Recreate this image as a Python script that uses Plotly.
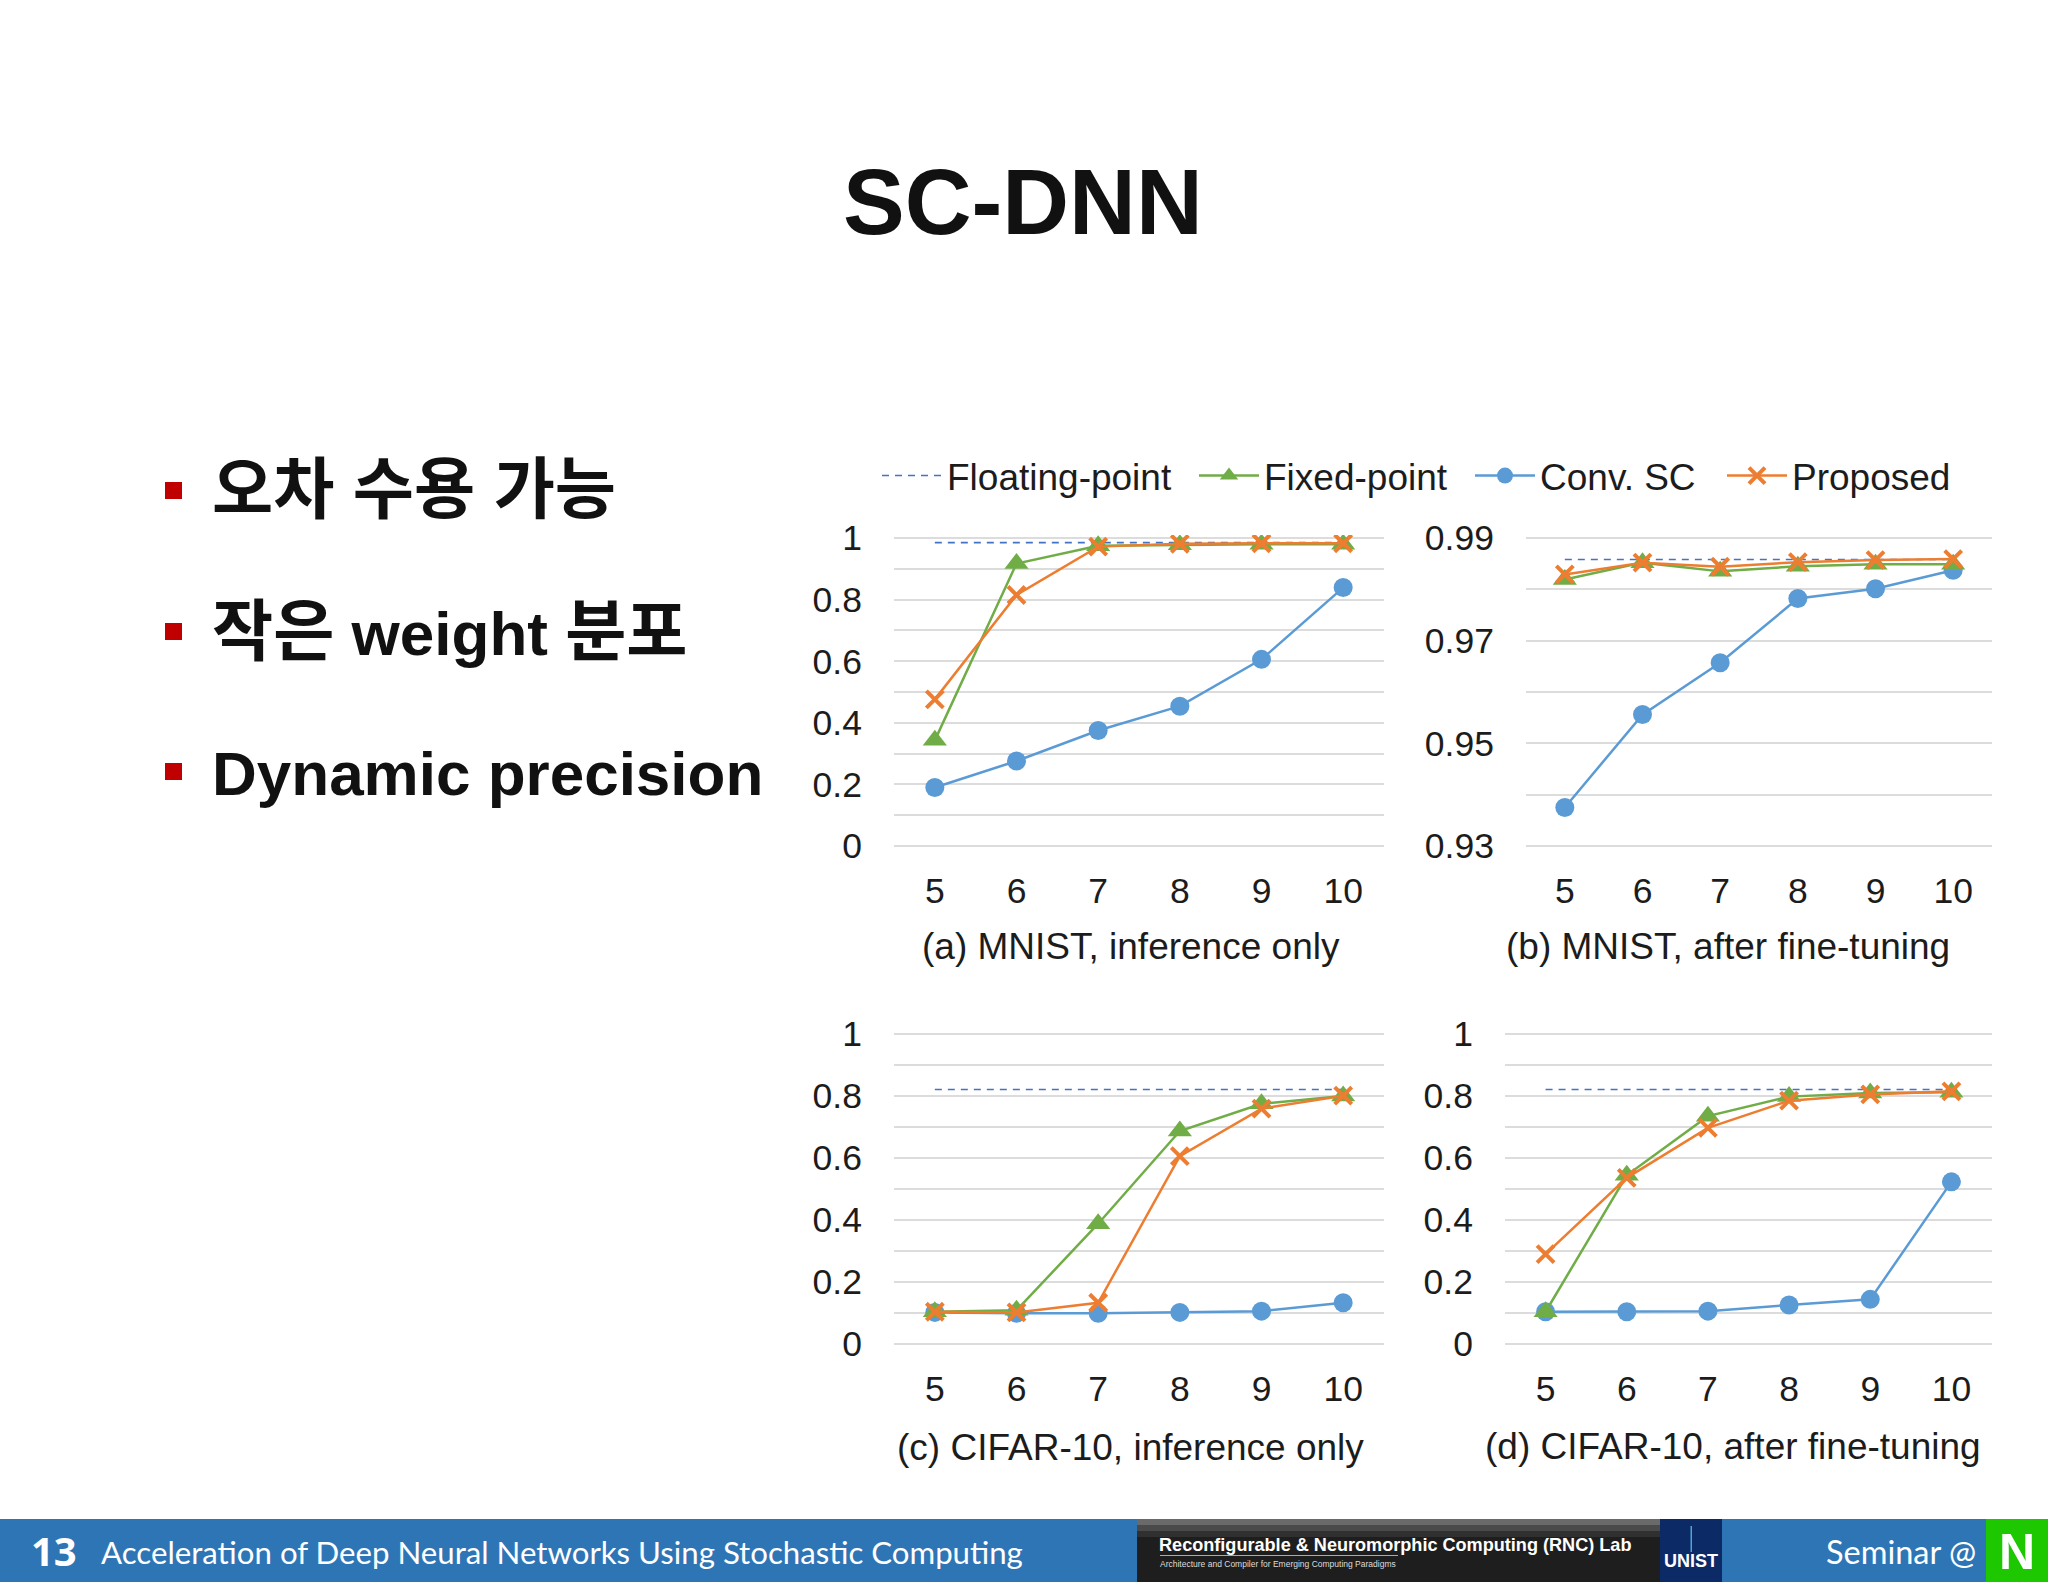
import plotly.graph_objects as go

W, H = 2048, 1582
categories = ["5", "6", "7", "8", "9", "10"]

float_a = [0.985] * 6
fixed_a = [0.343, 0.917, 0.975, 0.978, 0.98, 0.98]
conv_a = [0.19, 0.276, 0.375, 0.454, 0.606, 0.839]
prop_a = [0.476, 0.815, 0.972, 0.981, 0.983, 0.983]

float_b = [0.9858] * 6
fixed_b = [0.9819, 0.9852, 0.9835, 0.9845, 0.9849, 0.9849]
conv_b = [0.9375, 0.9556, 0.9657, 0.9782, 0.9801, 0.9837]
prop_b = [0.9829, 0.9852, 0.9844, 0.9853, 0.9857, 0.9859]

float_c = [0.821] * 6
fixed_c = [0.104, 0.109, 0.388, 0.687, 0.775, 0.80]
conv_c = [0.102, 0.099, 0.099, 0.102, 0.106, 0.133]
prop_c = [0.104, 0.102, 0.133, 0.606, 0.759, 0.801]

float_d = [0.821] * 6
fixed_d = [0.104, 0.544, 0.735, 0.798, 0.81, 0.812]
conv_d = [0.104, 0.104, 0.106, 0.126, 0.144, 0.523]
prop_d = [0.29, 0.536, 0.697, 0.785, 0.805, 0.815]

ticks_unit = [0, 0.1, 0.2, 0.3, 0.4, 0.5, 0.6, 0.7, 0.8, 0.9, 1]
labels_unit = ["0", "", "0.2", "", "0.4", "", "0.6", "", "0.8", "", "1"]
ticks_b = [0.93, 0.94, 0.95, 0.96, 0.97, 0.98, 0.99]
labels_b = ["0.93", "", "0.95", "", "0.97", "", "0.99"]

BLUE, GREEN, ORANGE, NAVY = "#5B9BD5", "#70AD47", "#ED7D31", "#4472C4"
ARIAL = "Liberation Sans"
KR = "Liberation Sans, Noto Sans CJK KR"
INK = "#1c1c1c"
PAD = 3  # pixels beyond the end gridlines, so Plotly keeps them

panels = [
    dict(x=(894, 1384), y=(538, 846), rng=(0, 1), tv=ticks_unit, tt=labels_unit,
         fl=float_a, fx=fixed_a, cv=conv_a, pr=prop_a),
    dict(x=(1526, 1992), y=(538, 846), rng=(0.93, 0.99), tv=ticks_b, tt=labels_b,
         fl=float_b, fx=fixed_b, cv=conv_b, pr=prop_b),
    dict(x=(894, 1384), y=(1034, 1344), rng=(0, 1), tv=ticks_unit, tt=labels_unit,
         fl=float_c, fx=fixed_c, cv=conv_c, pr=prop_c),
    dict(x=(1505, 1992), y=(1034, 1344), rng=(0, 1), tv=ticks_unit, tt=labels_unit,
         fl=float_d, fx=fixed_d, cv=conv_d, pr=prop_d),
]

fig = go.Figure()
layout = {}
for i, p in enumerate(panels):
    n = "" if i == 0 else str(i + 1)
    xa, ya = "x" + n, "y" + n
    first = i == 0
    fig.add_trace(go.Scatter(x=categories, y=p["fl"], name="Floating-point", mode="lines", xaxis=xa, yaxis=ya,
                             line=dict(color=NAVY, width=1.6, dash="7px,6px"),
                             showlegend=first, legend="legend"))
    fig.add_trace(go.Scatter(x=categories, y=p["cv"], name="Conv. SC", mode="lines+markers", xaxis=xa, yaxis=ya,
                             line=dict(color=BLUE, width=2.5), marker=dict(symbol="circle", size=19, color=BLUE),
                             showlegend=first, legend="legend3"))
    fig.add_trace(go.Scatter(x=categories, y=p["fx"], name="Fixed-point", mode="lines+markers", xaxis=xa, yaxis=ya,
                             line=dict(color=GREEN, width=2.5), marker=dict(symbol="triangle-up", size=21, color=GREEN),
                             showlegend=first, legend="legend2"))
    fig.add_trace(go.Scatter(x=categories, y=p["pr"], name="Proposed", mode="lines+markers", xaxis=xa, yaxis=ya,
                             line=dict(color=ORANGE, width=2.5),
                             marker=dict(symbol="x-thin", size=17, color=ORANGE, line=dict(color=ORANGE, width=4)),
                             showlegend=first, legend="legend4"))
    lo, hi = p["rng"]
    y0, y1 = p["y"]
    extra = PAD * (hi - lo) / (y1 - y0)
    layout["xaxis" + n] = dict(
        domain=[p["x"][0] / W, p["x"][1] / W], anchor=ya, type="category", range=[-0.5, 5.5],
        showgrid=False, showline=False, zeroline=False, ticks="outside", ticklen=10,
        tickcolor="rgba(0,0,0,0)", tickfont=dict(family=ARIAL, size=35.5, color=INK))
    layout["yaxis" + n] = dict(
        domain=[1 - (y1 + PAD) / H, 1 - (y0 - PAD) / H], anchor=xa, range=[lo - extra, hi + extra],
        tickmode="array", tickvals=p["tv"], ticktext=p["tt"], showgrid=True, gridcolor="#DCDCDC", gridwidth=2,
        showline=False, zeroline=False, ticks="outside", ticklen=24, tickcolor="rgba(0,0,0,0)",
        tickfont=dict(family=ARIAL, size=35.5, color=INK))


def note(text, x, y, size, family=ARIAL, color=INK, bold=False, anchor="left"):
    return dict(text=f"<b>{text}</b>" if bold else text, x=x / W, y=1 - y / H, xref="paper", yref="paper",
                xanchor=anchor, yanchor="middle", showarrow=False, font=dict(family=family, size=size, color=color))


def rect(x0, y0, x1, y1, color):
    return dict(type="rect", xref="paper", yref="paper", x0=x0 / W, x1=x1 / W, y0=1 - y0 / H, y1=1 - y1 / H,
                fillcolor=color, line=dict(width=0), layer="below")


def leg(x):
    return dict(orientation="h", x=x / W, y=1 - 476 / H, xanchor="left", yanchor="middle", itemwidth=60,
                font=dict(family=ARIAL, size=37, color=INK), bgcolor="rgba(0,0,0,0)")


kr_big = '<span style="font-size:66.5px">{}</span>'
annotations = [
    note("SC-DNN", 1023, 202, 92.5, color="#111111", bold=True, anchor="center"),
    note(kr_big.format("오차 수용 가능"), 210, 490, 62, family=KR, color="#111111", bold=True),
    note(kr_big.format("작은") + " weight " + kr_big.format("분포"), 210, 632, 62, family=KR, color="#111111", bold=True),
    note("Dynamic precision", 210, 773, 62, color="#111111", bold=True),
    note("(a) MNIST, inference only", 1131, 946, 37, anchor="center"),
    note("(b) MNIST, after fine-tuning", 1728, 946, 37, anchor="center"),
    note("(c) CIFAR-10, inference only", 1130, 1447, 37, anchor="center"),
    note("(d) CIFAR-10, after fine-tuning", 1733, 1446, 37, anchor="center"),
    note("13", 29, 1550, 40, family="Open Sans", color="white", bold=True),
    note("Acceleration of Deep Neural Networks Using Stochastic Computing", 99, 1552, 31.2, family="Lato", color="white"),
    note("Reconfigurable &amp; Neuromorphic Computing (RNC) Lab", 1157, 1545, 18.1, color="white", bold=True),
    note("Architecture and Compiler for Emerging Computing Paradigms", 1158, 1564, 8.5, color="#dddddd"),
    note("UNIST", 1691, 1561, 18, color="white", bold=True, anchor="center"),
    note("Seminar @", 1824, 1551, 32.5, family="Lato", color="white"),
    note("N", 2017, 1552, 50, color="white", bold=True, anchor="center"),
]

shapes = [
    rect(165, 482, 182, 499, "#C00000"),
    rect(165, 623, 182, 640, "#C00000"),
    rect(165, 763, 182, 780, "#C00000"),
    rect(0, 1519, W, H, "#2E75B6"),
    rect(1137, 1519, 1660, H, "#1E1E1E"),
    rect(1137, 1519, 1660, 1525, "#6A6A6A"),
    rect(1137, 1525, 1660, 1531, "#4A4A4A"),
    rect(1137, 1531, 1660, 1537, "#303030"),
    rect(1160, 1555, 1398, 1556, "#AAAAAA"),
    rect(1660, 1519, 1722, H, "#0B2A66"),
    rect(1690.5, 1526, 1692, 1552, "#4FA3D9"),
    rect(1986, 1519, W, H, "#1EC800"),
]

fig.update_layout(
    width=W, height=H, autosize=False, margin=dict(l=0, r=0, t=0, b=0, autoexpand=False),
    paper_bgcolor="white", plot_bgcolor="white", showlegend=True,
    legend=leg(877), legend2=leg(1194), legend3=leg(1470), legend4=leg(1722),
    annotations=annotations, shapes=shapes, **layout)

fig.write_html("out.html", config={"displayModeBar": False}, post_script="document.body.style.margin='0';")
